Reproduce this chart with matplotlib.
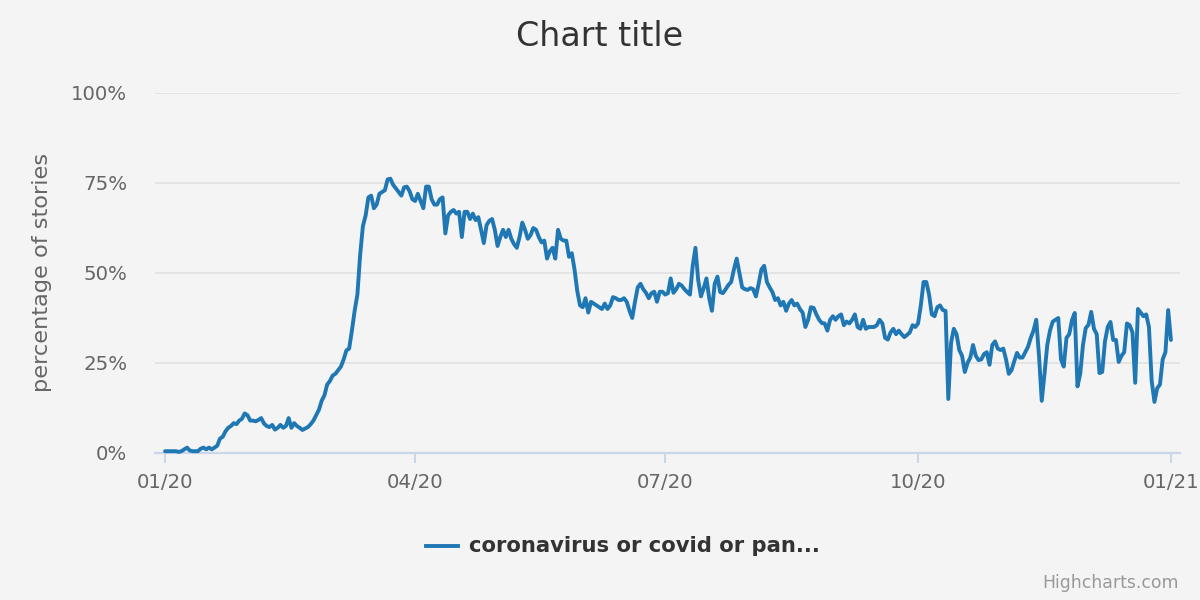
import matplotlib
matplotlib.use("Agg")
import matplotlib.pyplot as plt
import matplotlib.dates as mdates
from matplotlib.lines import Line2D
import pandas as pd
import numpy as np

# ---- data: daily share of stories (%) ----
jan = [0.5, 0.5, 0.5, 0.5, 0.5, 0.3, 0.5, 1.0, 1.5, 0.7, 0.5, 0.5, 0.5, 1.2, 1.5, 1.0,
       1.5, 1.0, 1.5, 2.0, 4.0, 4.5, 6.0, 7.0, 7.5, 8.3, 8.0, 9.0, 9.5, 11.0, 10.5]
feb = [9.0, 9.0, 8.8, 9.2, 9.7, 8.2, 7.5, 7.2, 7.8, 6.5, 7.0, 7.8, 7.0, 7.5, 9.7, 7.0,
       8.3, 7.5, 7.0, 6.4, 6.8, 7.2, 8.0, 9.0, 10.5, 12.0, 14.5, 16.0, 19.0]
mar = [20.0, 21.5, 22.0, 23.0, 24.0, 26, 28.5, 29, 34, 39.5, 44, 55, 63, 66, 71, 71.5,
       68, 69, 72, 72.5, 73, 76, 76.2, 74.5, 73.5, 72.5, 71.5, 73.8, 74, 72.7, 70.5]
apr = [70, 72, 70, 68, 74, 74, 70.5, 69, 69, 70.5, 71, 61, 66, 67, 67.5, 66.5, 67, 60,
       67, 67, 65, 66.5, 64.7, 65.5, 62, 58.3, 63.3, 64.5, 65, 62]
may = [57.5, 60, 62, 60, 62, 59.5, 58, 57, 60, 64, 62, 59.5, 60.5, 62.5, 62, 60, 58.5,
       59, 54, 56, 57, 54, 62, 59.5, 59, 59, 54.5, 55.5, 51, 45, 41]
jun = [40.5, 43, 39, 42, 41.5, 41, 40.5, 40, 41.5, 40, 41, 43.3, 43, 42.5, 42.5, 43, 42,
       39.5, 37.5, 42, 46, 47, 45.5, 44.5, 43, 44.4, 44.8, 42, 44.8, 44.8]
jul = [44, 44.4, 48.5, 44.5, 45.5, 47, 46.5, 45.5, 44.7, 44, 52, 57, 48, 43.5, 45.8, 48.5,
       43, 39.5, 47, 49, 44.7, 44.4, 45.5, 46.7, 47.5, 51, 54, 50, 46, 45.5, 45.3]
aug = [45.8, 45.5, 43.5, 47, 51, 52, 47.5, 46, 44.7, 42.5, 43, 41, 42, 39.5, 41.5, 42.5,
       41, 41.5, 40, 39, 35, 37, 40.5, 40.3, 38.5, 37, 36.1, 36, 34, 37, 38]
sep = [37, 38, 38.5, 35.5, 36.5, 36, 37, 38.5, 35, 34.5, 37, 34.5, 35, 35, 35, 35.5, 37,
       36, 32, 31.5, 33.5, 34.5, 33, 34, 33, 32.2, 32.8, 33.5, 35.5, 35]
oct_ = [36, 41, 47.5, 47.5, 44, 38.5, 38, 40.5, 41, 39.7, 39.5, 15, 30.6, 34.5, 33, 28.6,
        27, 22.5, 25, 26.5, 30, 27, 25.8, 26, 27.5, 28, 24.5, 30, 31, 29, 28.6]
nov = [29, 26, 22, 23, 25.5, 27.8, 26.5, 26.5, 28, 29.5, 32, 34, 37, 27, 14.5, 22, 30, 34,
       36.5, 37, 37.5, 26, 24, 32, 33, 36.9, 38.9, 18.5, 22, 30]
dec = [34.7, 35.6, 39.2, 34.5, 33, 22.2, 22.5, 31, 35, 36.4, 31.4, 31.4, 25.3, 27, 28, 36,
       35.5, 33.5, 19.5, 40, 39, 38, 38.5, 35, 20, 14.2, 18, 19, 26, 28, 39.7]
jan21 = [31.4]

values = jan + feb + mar + apr + may + jun + jul + aug + sep + oct_ + nov + dec + jan21
dates = pd.date_range("2020-01-01", periods=len(values), freq="D")

series_name = "coronavirus or covid or pan..."
title = "Chart title"
y_title = "percentage of stories"
y_ticks = [0, 25, 50, 75, 100]
y_ticklabels = ["0%", "25%", "50%", "75%", "100%"]
x_ticks = pd.to_datetime(["2020-01-01", "2020-04-01", "2020-07-01", "2020-10-01", "2021-01-01"])

# ---- styling ----
BG = "#f4f4f4"
LINE = "#1f77b4"
W, H = 1200, 600

plt.rcParams["font.family"] = ["DejaVu Sans"]
fig = plt.figure(figsize=(12, 6), dpi=100, facecolor=BG)
ax = fig.add_axes([155 / W, 1 - 453 / H, 1025 / W, 360 / H])
ax.set_facecolor(BG)

ax.plot(dates, values, color=LINE, lw=2.8, solid_joinstyle="round",
        solid_capstyle="round", zorder=3, clip_on=False)

ax.set_ylim(0, 100)
x0 = pd.Timestamp("2020-01-01")
ax.set_xlim(x0 - pd.Timedelta(days=3.64), x0 + pd.Timedelta(days=369.3))

ax.set_yticks(y_ticks)
ax.set_yticklabels(y_ticklabels)
ax.set_xticks(x_ticks)
ax.xaxis.set_major_formatter(mdates.DateFormatter("%m/%y"))

for s in ["top", "right", "left"]:
    ax.spines[s].set_visible(False)
ax.spines["bottom"].set_color("#ccd6eb")
ax.spines["bottom"].set_linewidth(1.6)
ax.spines["bottom"].set_zorder(2)

ax.grid(axis="y", color="#e3e3e3", lw=1.3, zorder=0)
ax.set_axisbelow(True)

ax.tick_params(axis="y", length=0, pad=20, labelsize=14.2, labelcolor="#666666")
ax.tick_params(axis="x", length=7.5, width=1.5, color="#ccd6eb", pad=7,
               labelsize=14.2, labelcolor="#666666")

fig.text(0.5, 1 - 36 / H, title, ha="center", va="center", fontsize=24, color="#333333")
fig.text(42 / W, 1 - 272 / H, y_title, rotation=90, ha="center", va="center",
         fontsize=16.2, color="#666666")

# legend
fig.add_artist(Line2D([426 / W, 458 / W], [1 - 546 / H, 1 - 546 / H], color=LINE,
                      lw=2.8, transform=fig.transFigure))
fig.text(469 / W, 1 - 546 / H, series_name, ha="left", va="center", fontsize=15.2,
         fontweight="bold", color="#333333")

fig.text(1179 / W, 1 - 583 / H, "Highcharts.com", ha="right", va="center",
         fontsize=12.4, color="#999999")

fig.savefig("out.png", dpi=100, facecolor=BG)
